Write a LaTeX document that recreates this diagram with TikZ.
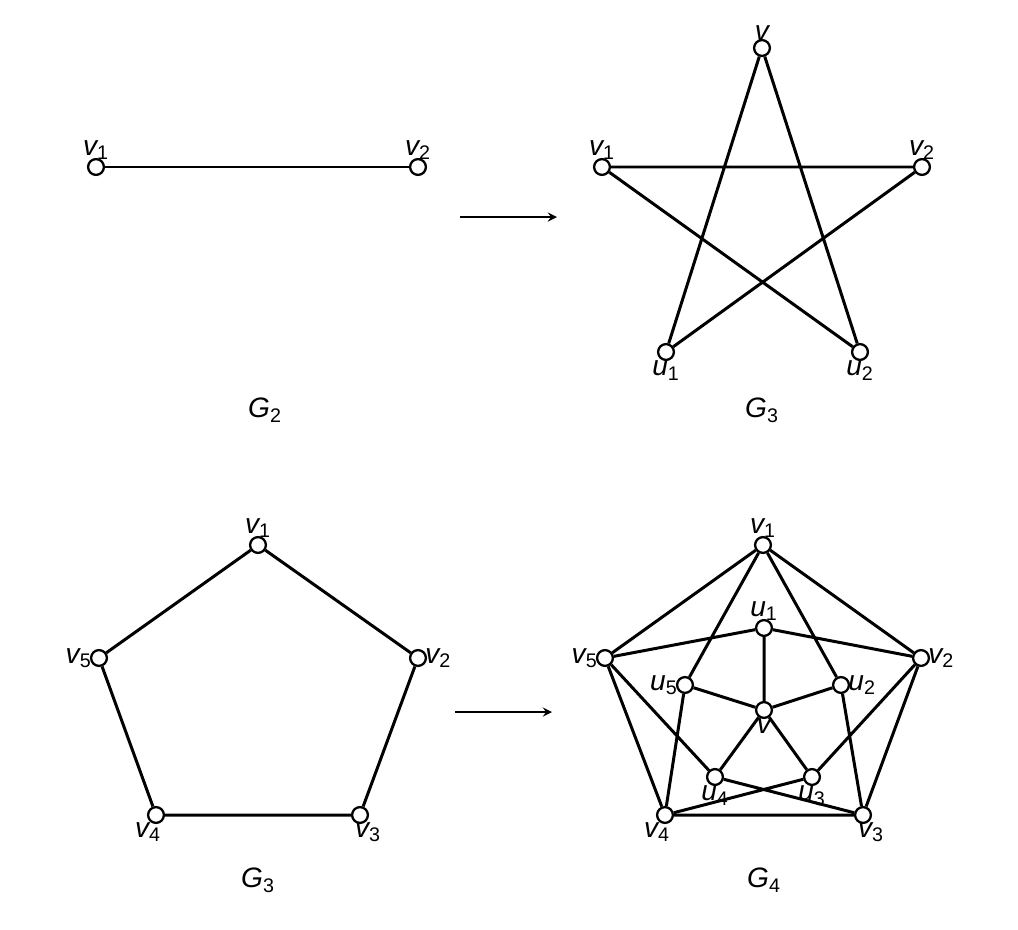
\documentclass[tikz,border=0pt]{standalone}
\usepackage{fontspec}
\setmainfont{Liberation Sans}
\newcommand\lab[2]{#1\textsubscript{\upshape #2}}
\begin{document}
\begin{tikzpicture}[x=0.02cm,y=-0.02cm,
  vtx/.style={circle,draw,fill=white,line width=1.3pt,inner sep=0pt,minimum size=9pt},
  lbl/.style={font=\itshape\fontsize{16}{16}\selectfont,inner sep=1pt},
  lbr/.style={lbl,anchor=north west,xshift=-4pt,yshift=-3pt},
  lbll/.style={lbl,anchor=north east,xshift=4pt,yshift=-3pt},
  edge/.style={line width=1.7pt},
  arr/.style={line width=1.3pt,-stealth}]
\useasboundingbox (0,0) rectangle (1018,930);
% G2
\node[vtx] (a1) at (96,167) {};
\node[vtx] (a2) at (418,167) {};
\draw[edge] (a1)--(a2);
\node[lbl,above=3pt] at (a1) {\lab{v}{1}};
\node[lbl,above=3pt] at (a2) {\lab{v}{2}};
\node[lbl] (g2) at (265,410) {\lab{G}{2}};
\coordinate (ar1s) at (460,217); \coordinate (ar1e) at (557,217);
\draw[arr] (ar1s)--(ar1e);
% G3 star
\node[vtx] (s) at (762,48) {};
\node[vtx] (s1) at (602,167) {};
\node[vtx] (s2) at (922,167) {};
\node[vtx] (t1) at (666,352) {};
\node[vtx] (t2) at (860,352) {};
\draw[edge] (s1)--(s2) (s)--(t1) (s)--(t2) (s1)--(t2) (s2)--(t1);
\node[lbl,above=3pt] at (s) {v};
\node[lbl,above=3pt] at (s1) {\lab{v}{1}};
\node[lbl,above=3pt] at (s2) {\lab{v}{2}};
\node[lbl,below=4pt] at (t1) {\lab{u}{1}};
\node[lbl,below=4pt] at (t2) {\lab{u}{2}};
\node[lbl] (g3) at (762,410) {\lab{G}{3}};
% pentagon
\node[vtx] (p1) at (258,545) {};
\node[vtx] (p2) at (418,658) {};
\node[vtx] (p3) at (360,815) {};
\node[vtx] (p4) at (156,815) {};
\node[vtx] (p5) at (99,658) {};
\draw[edge] (p1)--(p2)--(p3)--(p4)--(p5)--(p1);
\node[lbl,above=3pt] at (p1) {\lab{v}{1}};
\node[lbl,right=3pt] at (p2) {\lab{v}{2}};
\node[lbr] at (p3) {\lab{v}{3}};
\node[lbll] at (p4) {\lab{v}{4}};
\node[lbl,left=3pt] at (p5) {\lab{v}{5}};
\node[lbl] (g3b) at (258,880) {\lab{G}{3}};
\coordinate (ar2s) at (455,712); \coordinate (ar2e) at (552,712);
\draw[arr] (ar2s)--(ar2e);
% G4
\node[vtx] (q1) at (763,545) {};
\node[vtx] (q2) at (921,658) {};
\node[vtx] (q3) at (863,815) {};
\node[vtx] (q4) at (665,815) {};
\node[vtx] (q5) at (605,658) {};
\node[vtx] (w1) at (764,628) {};
\node[vtx] (w2) at (841,685) {};
\node[vtx] (w3) at (812,777) {};
\node[vtx] (w4) at (715,777) {};
\node[vtx] (w5) at (685,685) {};
\node[vtx] (c) at (764,710) {};
\draw[edge] (q1)--(q2)--(q3)--(q4)--(q5)--(q1);
\draw[edge] (c)--(w1) (c)--(w2) (c)--(w3) (c)--(w4) (c)--(w5);
\draw[edge] (w1)--(q2) (w1)--(q5) (w2)--(q1) (w2)--(q3) (w3)--(q2) (w3)--(q4)
  (w4)--(q3) (w4)--(q5) (w5)--(q4) (w5)--(q1);
\node[lbl,above=3pt] at (q1) {\lab{v}{1}};
\node[lbl,right=3pt] at (q2) {\lab{v}{2}};
\node[lbr] at (q3) {\lab{v}{3}};
\node[lbll] at (q4) {\lab{v}{4}};
\node[lbl,left=3pt] at (q5) {\lab{v}{5}};
\node[lbl,above=3pt] at (w1) {\lab{u}{1}};
\node[lbl,right=3pt] at (w2) {\lab{u}{2}};
\node[lbl,below=4pt] at (w3) {\lab{u}{3}};
\node[lbl,below=4pt] at (w4) {\lab{u}{4}};
\node[lbl,left=3pt] at (w5) {\lab{u}{5}};
\node[lbl,below=4pt] at (c) {v};
\node[lbl] (g4) at (764,880) {\lab{G}{4}};
\end{tikzpicture}
\end{document}
